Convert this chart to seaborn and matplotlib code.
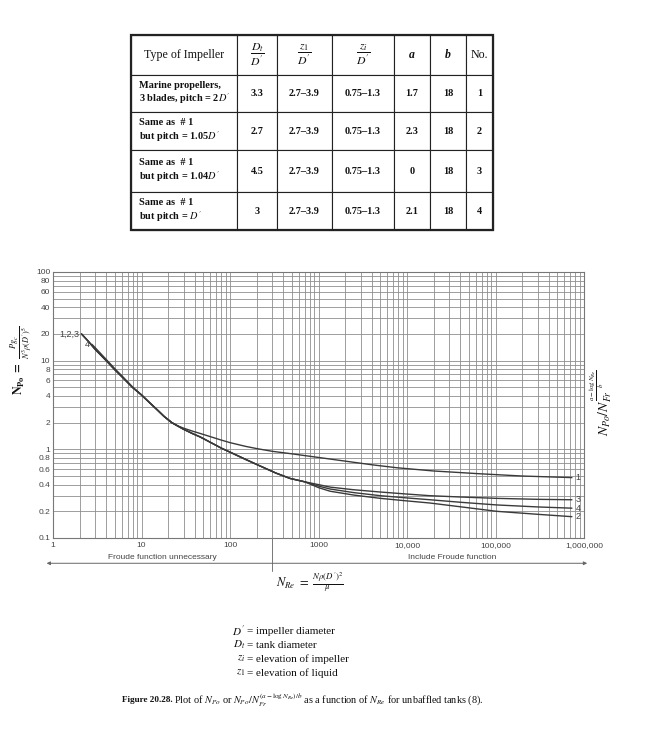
import pandas as pd
import matplotlib
matplotlib.use("Agg")
import matplotlib.pyplot as plt
from matplotlib.table import Table
from matplotlib.patches import Rectangle
from matplotlib.ticker import FixedLocator, LogLocator, NullFormatter
import seaborn as sns

# ---- table data ----
table_header = ["Type of Impeller", r"$\dfrac{D_t}{D'}$", r"$\dfrac{z_1}{D'}$",
                r"$\dfrac{z_i}{D'}$", "a", "b", "No."]
impeller_types = ["Marine propellers,\n3 blades, pitch = 2$D'$",
                  "Same as  # 1\nbut pitch = 1.05$D'$",
                  "Same as  # 1\nbut pitch = 1.04$D'$",
                  "Same as  # 1\nbut pitch = $D'$"]
dt_ratio = ["3.3", "2.7", "4.5", "3"]
z1_ratio = ["2.7–3.9", "2.7–3.9", "2.7–3.9", "2.7–3.9"]
zi_ratio = ["0.75–1.3", "0.75–1.3", "0.75–1.3", "0.75–1.3"]
a_values = ["1.7", "2.3", "0", "2.1"]
b_values = ["18", "18", "18", "18"]
curve_no = ["1", "2", "3", "4"]

# ---- curve data ----
# start shared by curves 1, 2, 3
nre_123 = [2.1, 2.5, 3, 4, 5, 6, 7, 8, 10, 12, 15, 18, 22]
npo_123 = [20, 16.6, 13.4, 10.0, 7.9, 6.6, 5.65, 4.95, 4.1, 3.45, 2.8, 2.35, 2.0]
# start of curve 4 (joins the others near NRe = 12)
nre_4_start = [2.75, 3, 4, 5, 6, 7, 8, 10]
npo_4_start = [15.3, 14.0, 10.3, 8.1, 6.75, 5.75, 5.0, 4.12]
# curve 1 after the split
nre_1_tail = [26, 30, 38, 46, 60, 80, 100, 150, 200, 300, 500, 700, 1000, 1750,
              4000, 7650, 20000, 66800, 200000, 730000]
npo_1_tail = [1.83, 1.73, 1.6, 1.51, 1.39, 1.27, 1.19, 1.08, 1.02, 0.95, 0.89, 0.85,
              0.81, 0.75, 0.67, 0.62, 0.57, 0.53, 0.5, 0.48]
# lower branch shared by curves 2, 3, 4
nre_low = [26, 30, 38, 46, 60, 80, 100, 150, 218, 330, 476, 700]
npo_low = [1.82, 1.68, 1.5, 1.38, 1.2, 1.03, 0.93, 0.77, 0.65, 0.54, 0.47, 0.43]
# separate tails of curves 2, 3, 4
nre_tail = [1000, 1350, 2500, 5000, 10000, 18200, 40000, 103000, 300000, 730000]
npo_2_tail = [0.37, 0.337, 0.305, 0.28, 0.262, 0.248, 0.225, 0.2, 0.185, 0.174]
npo_3_tail = [0.40, 0.375, 0.35, 0.33, 0.313, 0.30, 0.29, 0.28, 0.273, 0.27]
npo_4_tail = [0.385, 0.357, 0.325, 0.30, 0.283, 0.27, 0.253, 0.236, 0.224, 0.217]

y_ticks = [0.1, 0.2, 0.4, 0.6, 0.8, 1, 2, 4, 6, 8, 10, 20, 40, 60, 80, 100]
y_labels = ["0.1", "0.2", "0.4", "0.6", "0.8", "1", "2", "4", "6", "8",
            "10", "20", "40", "60", "80", "100"]
x_ticks = [1, 10, 100, 1000, 10000, 100000, 1000000]
x_labels = ["1", "10", "100", "1000", "10,000", "100,000", "1,000,000"]
froude_split = 300


def curve(name, xs, ys):
    return pd.DataFrame({"NRe": xs, "NPo": ys, "curve": name})


df = pd.concat([
    curve("1", nre_123 + nre_1_tail, npo_123 + npo_1_tail),
    curve("2", nre_123 + nre_low + nre_tail, npo_123 + npo_low + npo_2_tail),
    curve("3", nre_123 + nre_low + nre_tail, npo_123 + npo_low + npo_3_tail),
    curve("4", nre_4_start + nre_123[-4:] + nre_low + nre_tail,
          npo_4_start + npo_123[-4:] + npo_low + npo_4_tail),
], ignore_index=True)

sns.set_style("white")
plt.rcParams["font.family"] = ["Liberation Serif", "DejaVu Serif"]
plt.rcParams["mathtext.fontset"] = "stix"

W, H = 654, 730
fig = plt.figure(figsize=(W / 100, H / 100), dpi=100)
fig.patch.set_facecolor("white")


def fx(px):
    return px / W


def fy(py):
    return 1 - py / H


# ---- the chart ----
ax = fig.add_axes([fx(53), fy(538), 531 / W, 266 / H])
ax.set_xscale("log")
ax.set_yscale("log")
sns.lineplot(data=df, x="NRe", y="NPo", units="curve", estimator=None, sort=False,
             color="#3a3a3a", lw=1.0, ax=ax, legend=False)
ax.set_xlim(1, 1e6)
ax.set_ylim(0.1, 100)

ax.yaxis.set_major_locator(FixedLocator(y_ticks))
ax.set_yticklabels(y_labels)
ax.yaxis.set_minor_locator(LogLocator(base=10, subs=(3, 5, 7, 9)))
ax.yaxis.set_minor_formatter(NullFormatter())
ax.xaxis.set_major_locator(FixedLocator(x_ticks))
ax.set_xticklabels(x_labels)
ax.xaxis.set_minor_locator(LogLocator(base=10, subs=range(2, 10)))
ax.xaxis.set_minor_formatter(NullFormatter())
ax.tick_params(which="both", length=0)
ax.tick_params(axis="x", pad=3, labelsize=6, labelcolor="#444")
ax.tick_params(axis="y", pad=2, labelsize=6, labelcolor="#444")
for lab in ax.get_xticklabels() + ax.get_yticklabels():
    lab.set_fontfamily("Liberation Sans")
ax.set_xlabel("")
ax.set_ylabel("")
ax.grid(which="both", color="#8e8e8e", lw=0.6)
ax.set_axisbelow(True)
for sp in ax.spines.values():
    sp.set_color("#777")
    sp.set_linewidth(0.8)

# curve labels
lab_kw = dict(fontsize=6.5, color="#444", family="Liberation Sans", va="center")
ax.text(2.0, 20, "1,2,3", ha="right", **lab_kw)
ax.text(2.42, 15.4, "4", ha="center", **lab_kw)
ax.text(8.0e5, npo_1_tail[-1], "1", ha="left", **lab_kw)
ax.text(8.0e5, npo_3_tail[-1], "3", ha="left", **lab_kw)
ax.text(8.0e5, npo_4_tail[-1], "4", ha="left", **lab_kw)
ax.text(8.0e5, npo_2_tail[-1], "2", ha="left", **lab_kw)

# Froude regions below the axis
xt = ax.get_xaxis_transform()
ax.plot([froude_split, froude_split], [0, -0.125], transform=xt, clip_on=False,
        color="#777", lw=0.7)
ax.annotate("", xy=(1.006, -0.095), xytext=(-0.012, -0.095), xycoords="axes fraction",
            arrowprops=dict(arrowstyle="<|-|>", color="#666", lw=0.7,
                            mutation_scale=5, shrinkA=0, shrinkB=0))
ax.text(0.206, -0.072, "Froude function unnecessary", transform=ax.transAxes,
        ha="center", va="center", fontsize=6, color="#444", family="Liberation Sans")
ax.text(0.752, -0.072, "Include Froude function", transform=ax.transAxes,
        ha="center", va="center", fontsize=6, color="#444", family="Liberation Sans")

# axis titles
fig.text(fx(22), fy(360), r"$\mathbf{N_{Po}}\ \mathbf{=}\ \frac{P g_c}{N^3\rho(D')^5}$",
         rotation=90, ha="center", va="center", fontsize=8.5, color="#111")
fig.text(fx(601), fy(403), r"$N_{Po}/N_{Fr}^{\frac{a-\log N_{Re}}{b}}$",
         rotation=90, ha="center", va="center", fontsize=10, color="#111")
fig.text(fx(310), fy(582), r"$N_{Re}\ =\ \frac{N\rho(D')^2}{\mu}$",
         ha="center", va="center", fontsize=9, color="#111")

# ---- the table ----
tax = fig.add_axes([fx(131), fy(230), 362 / W, 195 / H])
tax.axis("off")
col_w = [106, 40, 55, 62, 36, 36, 27]
row_h = [40, 37, 38, 42, 38]
tot_w, tot_h = sum(col_w), sum(row_h)
tbl = Table(tax, bbox=[0, 0, 1, 1])
rows = [table_header] + [list(r) for r in zip(impeller_types, dt_ratio, z1_ratio,
                                               zi_ratio, a_values, b_values, curve_no)]
for r, row in enumerate(rows):
    for c, txt in enumerate(row):
        loc = "left" if (c == 0 and r > 0) else "center"
        cell = tbl.add_cell(r, c, col_w[c] / tot_w, row_h[r] / tot_h, text=txt,
                            loc=loc, facecolor="white", edgecolor="#222")
        cell.set_linewidth(0.8)
        cell.get_text().set_color("#111")
        if c == 0 and r > 0:
            cell.PAD = 0.08
            cell.get_text().set_linespacing(1.15)
tbl.auto_set_font_size(False)
tax.add_table(tbl)
for (r, c), cell in tbl.get_celld().items():
    t = cell.get_text()
    if r == 0 and 0 < c < 4:
        t.set_fontsize(8.5)
    elif r == 0 and c in (4, 5):
        t.set_fontsize(8.5)
        t.set_fontstyle("italic")
        t.set_fontweight("bold")
    elif r == 0:
        t.set_fontsize(8.6)
    else:
        t.set_fontsize(7.4)
        t.set_fontweight("bold")
tax.add_patch(Rectangle((0, 0), 1, 1, transform=tax.transAxes, fill=False,
                        lw=1.6, ec="#222", clip_on=False))

# ---- definitions and caption ----
lhs = [r"$D'$", r"$D_t$", r"$z_i$", r"$z_1$"]
rhs = ["impeller diameter", "tank diameter", "elevation of impeller", "elevation of liquid"]
for i, (l, t) in enumerate(zip(lhs, rhs)):
    y = 631 + 14 * i
    fig.text(fx(245), fy(y), l, ha="right", va="center", fontsize=8, color="#111")
    fig.text(fx(247), fy(y), "= " + t, ha="left", va="center", fontsize=8, color="#111")

fig.text(fx(122), fy(700), "Figure 20.28.", ha="left", va="center", fontsize=6.6,
         fontweight="bold", color="#111")
fig.text(fx(174), fy(700),
         r"Plot of $N_{Po}$ or $N_{Po}/N_{Fr}^{(a-\log N_{Re})/b}$ as a function of "
         r"$N_{Re}$ for unbaffled tanks (8).",
         ha="left", va="center", fontsize=7.4, color="#111")

fig.savefig("out.png", dpi=100)
